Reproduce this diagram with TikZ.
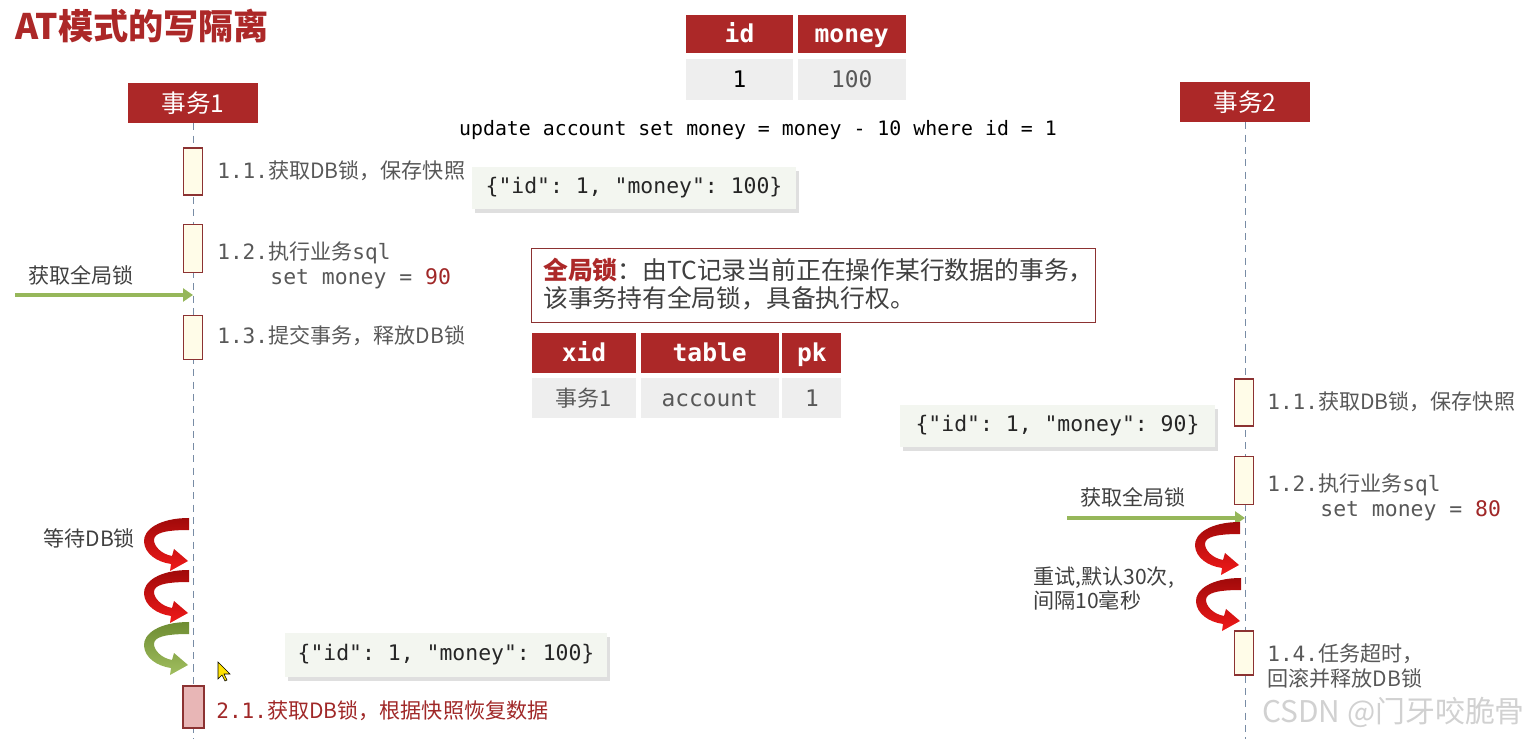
\documentclass[tikz,border=0pt]{standalone}
\usepackage{fontspec}
\setmainfont{Noto Sans CJK SC}
\setmonofont{DejaVu Sans Mono}
\usepackage{xcolor}
\usepackage{tikz}
\usetikzlibrary{positioning,arrows.meta,shadows}

\definecolor{hdred}{RGB}{172,40,40}
\definecolor{boxred}{RGB}{140,50,50}
\definecolor{actfill}{RGB}{255,252,232}
\definecolor{pinkfill}{RGB}{232,182,182}
\definecolor{txtgray}{RGB}{88,88,88}
\definecolor{numred}{RGB}{160,40,40}
\definecolor{lgreen}{RGB}{150,183,90}
\definecolor{snapfill}{RGB}{243,246,240}
\definecolor{cellgray}{RGB}{238,238,238}
\definecolor{lifeblue}{RGB}{120,140,165}
\definecolor{redtop}{RGB}{160,10,10}
\definecolor{redbot}{RGB}{240,25,25}
\definecolor{grntop}{RGB}{110,140,50}
\definecolor{grnbot}{RGB}{160,190,95}
\newcommand{\pxu}{0.02cm}

\tikzset{
  party/.style={fill=hdred, text=white, minimum width=130*\pxu, minimum height=40*\pxu, font=\fontsize{14}{16}\selectfont},
  life/.style={draw=lifeblue, dash pattern=on 4pt off 3pt, line width=0.5pt},
  act/.style={draw=boxred, fill=actfill, line width=0.8pt, minimum width=19*\pxu, inner sep=0},
  steptxt/.style={anchor=west, text=txtgray, inner sep=0, font=\fontsize{12}{14.2}\selectfont},
  codetxt/.style={anchor=west, text=txtgray, inner sep=0, font=\ttfamily\fontsize{12.2}{14}\selectfont},
  snap/.style={fill=snapfill, text=black!85, inner sep=0, font=\ttfamily\fontsize{12.2}{14}\selectfont,
    drop shadow={shadow xshift=1.5pt, shadow yshift=-2pt, opacity=0.25}},
  cellhd/.style={fill=hdred, text=white, inner sep=0, text height=12pt, text depth=2pt, font=\ttfamily\bfseries\fontsize{14}{16}\selectfont},
  cellbd/.style={fill=cellgray, text=txtgray, inner sep=0, text height=11.5pt, text depth=2pt, font=\ttfamily\fontsize{13}{15}\selectfont},
  grab/.style={draw=lgreen, line width=0.08cm, -{Triangle[length=0.2cm,width=0.26cm]}},
  pics/swirl/.style={code={
    \path[top color=#1top, bottom color=#1bot] (0,0) .. controls (-30,0) and (-46,12) .. (-45,24)
      .. controls (-44,36) and (-32,44) .. (-18,46) -- (-19,53) -- (-1,43) -- (-15,31) -- (-17,38)
      .. controls (-28,36) and (-35,28) .. (-35,22) .. controls (-35,15) and (-24,12) .. (0,12) -- cycle;
  }}
}

\begin{document}
\begin{tikzpicture}[x=0.02cm, y=-0.02cm, node distance=0.5cm]
\useasboundingbox (0,0) rectangle (1525,739);

\node[anchor=west, text=hdred, inner sep=0, font=\bfseries\fontsize{20}{24}\selectfont] (title) at (15,26) {AT模式的写隔离};

\node[party] (p1) at (193,103) {事务1};
\node[party] (p2) at (1245,102) {事务2};
\coordinate (e1) at (193,739);
\coordinate (e2) at (1245,739);
\draw[life] (p1) -- (e1);
\draw[life] (p2) -- (e2);

\node[cellhd, minimum width=107*\pxu, minimum height=38*\pxu] (hid) at (739.5,34) {id};
\node[cellhd, minimum width=108*\pxu, minimum height=38*\pxu] (hmoney) [right=0.08cm of hid] {money};
\node[cellbd, text=black, minimum width=107*\pxu, minimum height=41*\pxu] (vid) [below=0.1cm of hid] {1};
\node[cellbd, minimum width=108*\pxu, minimum height=41*\pxu] (vmoney) [below=0.1cm of hmoney] {100};

\node[inner sep=0, font=\ttfamily\fontsize{11.3}{13}\selectfont] (sql) at (758,130) {update account set money = money - 10 where id = 1};

\node[act, minimum height=47*\pxu] (a11) at (193,171.5) {};
\node[act, minimum height=48*\pxu] (a12) [below=0.56cm of a11] {};
\node[act, minimum height=44*\pxu] (a13) [below=0.84cm of a12] {};
\node[act, fill=pinkfill, minimum width=21*\pxu, minimum height=42*\pxu] (a21) at (193.5,707) {};

\node[steptxt] (t11) at (217,171) {{\ttfamily 1.1.}获取DB锁，保存快照};
\node[steptxt] (t12) at (217,253) {{\ttfamily 1.2.}执行业务{\ttfamily sql}};
\node[codetxt] (t12b) at (270,279) {set money = \textcolor{numred}{90}};
\node[steptxt] (t13) at (217,336) {{\ttfamily 1.3.}提交事务，释放DB锁};

\node[steptxt, text=black!75] (g1) at (28,275) {获取全局锁};
\coordinate (g1s) at (15,295);
\draw[grab] (g1s) -- (g1s -| p1);

\node[snap, minimum width=324*\pxu, minimum height=42*\pxu] (s1) at (634,188) {\{"id": 1, "money": 100\}};

\node[draw=boxred, fill=white, line width=0.6pt, anchor=north west, inner sep=0, minimum width=564*\pxu, minimum height=74*\pxu] (glk) at (531,248) {};
\node[anchor=west, inner sep=0, text=black!75, font=\fontsize{14.1}{16}\selectfont] (glk1) at (543,270) {\textcolor{hdred}{\bfseries 全局锁}：由TC记录当前正在操作某行数据的事务，};
\node[anchor=west, inner sep=0, text=black!75, font=\fontsize{14.1}{16}\selectfont] (glk2) at (543,298) {该事务持有全局锁，具备执行权。};

\node[cellhd, minimum width=104*\pxu, minimum height=40*\pxu] (hxid) at (584,353) {xid};
\node[cellhd, minimum width=138*\pxu, minimum height=40*\pxu] (htab) [right=0.08cm of hxid] {table};
\node[cellhd, minimum width=59*\pxu, minimum height=40*\pxu] (hpk) [right=0.06cm of htab] {pk};
\node[cellbd, font=\fontsize{12.5}{15}\selectfont, minimum width=104*\pxu, minimum height=40*\pxu] (vxid) [below=0.08cm of hxid] {事务1};
\node[cellbd, minimum width=138*\pxu, minimum height=40*\pxu] (vtab) [below=0.08cm of htab] {account};
\node[cellbd, minimum width=59*\pxu, minimum height=40*\pxu] (vpk) [below=0.08cm of hpk] {1};

\node[snap, minimum width=315*\pxu, minimum height=42*\pxu] (s2) at (1057.5,426) {\{"id": 1, "money": 90\}};

\node[act, minimum height=47*\pxu] (b11) at (1244,402.5) {};
\node[act, minimum height=48*\pxu] (b12) [below=0.58cm of b11] {};
\node[act, minimum height=44*\pxu] (b14) at (1244,653) {};

\node[steptxt] (rt11) at (1267,402) {{\ttfamily 1.1.}获取DB锁，保存快照};
\node[steptxt] (rt12) at (1267,485) {{\ttfamily 1.2.}执行业务{\ttfamily sql}};
\node[codetxt] (rt12b) at (1320,511) {set money = \textcolor{numred}{80}};

\node[steptxt, text=black!75] (g2) at (1080,497) {获取全局锁};
\coordinate (g2s) at (1067,518);
\draw[grab] (g2s) -- (g2s -| p2);

\pic at (1240,522) {swirl=red};
\pic at (1241,578) {swirl=red};
\node[steptxt, align=left, text=black!75] (retry) at (1033,588.5) {重试,默认30次,\\间隔10毫秒};

\node[steptxt, align=left] (rt14) at (1267,666.5) {{\ttfamily 1.4.}任务超时，\\回滚并释放DB锁};

\node[steptxt, text=black!75] (wait) at (43,538) {等待DB锁};
\pic at (189,518) {swirl=red};
\pic at (189,570) {swirl=red};
\pic at (189,622) {swirl=grn};

\node[snap, minimum width=322*\pxu, minimum height=44*\pxu] (s3) at (446,655) {\{"id": 1, "money": 100\}};

\filldraw[fill=yellow!85!orange, draw=black, line width=0.3pt] (218,662) -- (218,679) -- (222,675) -- (225,681) -- (227,680) -- (224,674) -- (230,674) -- cycle;

\node[steptxt, text=numred] (t21) at (216,711) {{\ttfamily 2.1.}获取DB锁，根据快照恢复数据};

\node[anchor=west, inner sep=0, text=black!18, font=\fontsize{17}{20}\selectfont] (wm) at (1262,712) {CSDN @门牙咬脆骨};
\end{tikzpicture}
\end{document}
